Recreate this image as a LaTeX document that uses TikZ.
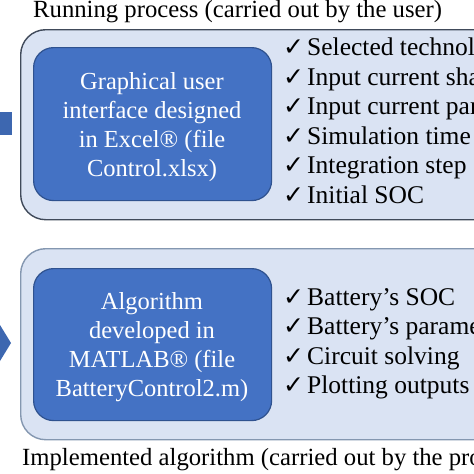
\documentclass[tikz,border=0pt]{standalone}
\usepackage{fontspec}
\setmainfont{Liberation Serif}
\newfontfamily\symfont{DejaVu Sans}
\definecolor{outerfill}{HTML}{DAE3F3}
\definecolor{innerfill}{HTML}{4472C4}
\definecolor{innerdraw}{HTML}{2F528F}
\definecolor{topborder}{HTML}{404A5A}
\definecolor{botborder}{HTML}{8497B0}
\newcommand{\ck}{\makebox[24pt][l]{\symfont\fontsize{25pt}{29.5pt}\selectfont ✓}}
\tikzset{
  outerbox/.style={draw, line width=1.4pt, fill=outerfill, rounded corners=25pt, anchor=north west, inner sep=0pt},
  innerbox/.style={draw=innerdraw, line width=1.2pt, fill=innerfill, rounded corners=20pt, anchor=north west,
    minimum width=238pt, minimum height=153pt, inner sep=0pt},
  bluetext/.style={text=white, align=center, font=\fontsize{24.5pt}{29pt}\selectfont},
  listtext/.style={align=left, anchor=north west, inner sep=0pt, font=\fontsize{25.5pt}{29.5pt}\selectfont},
  titletext/.style={anchor=west, inner sep=0pt, font=\fontsize{24.7pt}{29pt}\selectfont},
  stub/.style={fill=innerfill!90!black, draw=none}
}
\begin{document}
\begin{tikzpicture}[x=1pt,y=-1pt]
\useasboundingbox (0,0) rectangle (474,474);
\clip (0,0) rectangle (474,474);
\fill[white] (0,0) rectangle (474,474);
% titles
\node[titletext] (t1) at (33,12) {Running process (carried out by the user)};
\node[titletext] (t2) at (22,460) {Implemented algorithm (carried out by the program)};
% top panel
\node[outerbox, draw=topborder, minimum width=500pt, minimum height=190pt] (o1) at (20,29) {};
\node[innerbox] (i1) at (33,47) {};
\node[bluetext] (b1) at (152,127) {Graphical user\\interface designed\\in Excel® (file\\Control.xlsx)};
\node[listtext] (l1) at (283,38) {\ck Selected technology\\\ck Input current shape\\\ck Input current parameters\\\ck Simulation time\\\ck Integration step\\\ck Initial SOC};
% bottom panel
\node[outerbox, draw=botborder, minimum width=500pt, minimum height=191pt] (o2) at (20,248) {};
\node[innerbox, minimum height=152pt] (i2) at (33,268) {};
\node[bluetext] (b2) at (152,347) {Algorithm\\developed in\\MATLAB® (file\\BatteryControl2.m)};
\node[listtext] (l2) at (283,288) {\ck Battery’s SOC\\\ck Battery’s parameters\\\ck Circuit solving\\\ck Plotting outputs};
% left arrow parts
\coordinate (s1) at (0,112);
\coordinate (s2) at (12,135);
\fill[stub] (s1) rectangle (s2);
\coordinate (a1) at (0,325);
\coordinate (a2) at (11,343);
\coordinate (a3) at (0,361);
\fill[stub] (a1) -- (a2) -- (a3) -- cycle;
\end{tikzpicture}
\end{document}
